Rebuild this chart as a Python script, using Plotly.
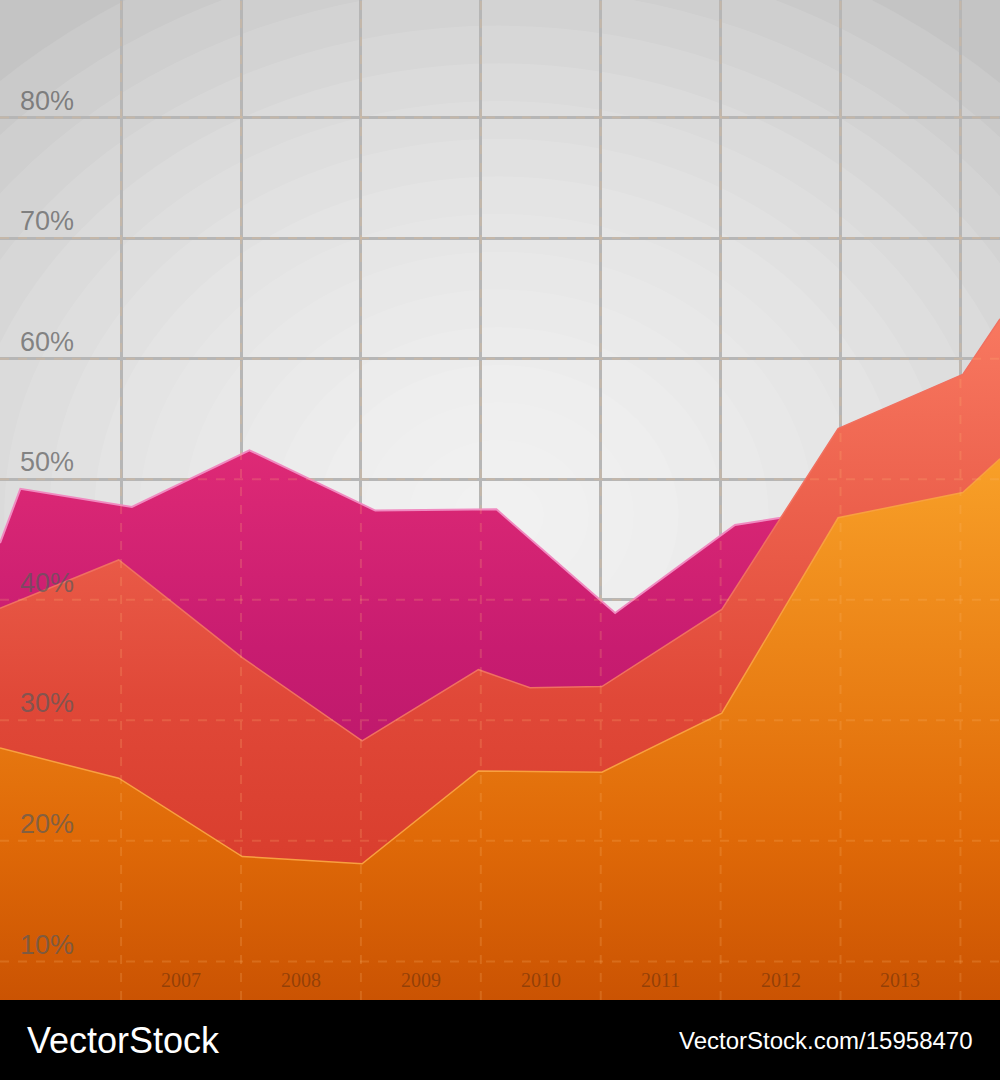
import plotly.graph_objects as go

years = ["2007", "2008", "2009", "2010", "2011", "2012", "2013"]
pct_ticks = [10, 20, 30, 40, 50, 60, 70, 80]

# series vertices (x in year-index units, y in %)
orange_x = [-1.51, -0.52, 0.51, 1.51, 2.48, 3.51, 4.51, 5.48, 6.52, 6.83]
orange_y = [27.7, 25.2, 18.7, 18.1, 25.8, 25.7, 30.6, 46.8, 48.9, 51.7]
red_x = [-1.51, -0.52, 0.51, 1.51, 2.48, 2.91, 3.51, 4.51, 5.48, 6.52, 6.83]
red_y = [39.3, 43.3, 35.2, 28.3, 34.2, 32.7, 32.8, 39.2, 54.2, 58.7, 63.3]
mag_x = [-1.51, -1.34, -0.41, 0.57, 1.62, 2.63, 3.62, 4.62, 5.0, 5.48, 6.52, 6.83]
mag_y = [44.7, 49.2, 47.7, 52.4, 47.4, 47.5, 38.9, 46.2, 46.8, 50.0, 55.0, 60.0]

fig = go.Figure()
fig.add_trace(go.Scatter(x=mag_x, y=mag_y, fill="tozeroy", mode="lines",
    line=dict(color="#f08ac0", width=2),
    fillgradient=dict(type="vertical", colorscale=[[0, "#a01060"], [0.6, "#c81c70"], [1, "#e83078"]])))
fig.add_trace(go.Scatter(x=red_x, y=red_y, fill="tozeroy", mode="lines",
    line=dict(color="#f07060", width=1.5),
    fillgradient=dict(type="vertical", colorscale=[[0, "#d03020"], [0.5, "#e04838"], [1, "#f87860"]])))
fig.add_trace(go.Scatter(x=orange_x, y=orange_y, fill="tozeroy", mode="lines",
    line=dict(color="#f8a040", width=1.5),
    fillgradient=dict(type="vertical", colorscale=[[0, "#c04800"], [0.4, "#e06a08"], [1, "#f8a028"]])))

shapes = []
# soft radial highlight in the background
n = 16
for i in range(n):
    f = 1 - i / n
    shapes.append(dict(type="circle", xref="x", yref="y", layer="below",
        x0=2.65 - 6.0 * f, x1=2.65 + 6.0 * f, y0=47 - 50 * f, y1=47 + 50 * f,
        fillcolor="rgba(255,255,255,0.1)", line_width=0))
# dashed grid over the areas
for i in range(8):
    shapes.append(dict(type="line", xref="x", yref="paper", x0=i - 0.5, x1=i - 0.5, y0=0, y1=1,
        layer="above", line=dict(color="rgba(255,190,120,0.2)", width=2, dash="dash")))
for v in pct_ticks:
    shapes.append(dict(type="line", xref="paper", yref="y", x0=0, x1=1, y0=v, y1=v,
        layer="above", line=dict(color="rgba(255,190,120,0.2)", width=2, dash="dash")))

ann = []
for v in pct_ticks:
    ann.append(dict(x=0.018, xref="paper", y=v + 1.4, yref="y", text=f"{v}%", showarrow=False,
        xanchor="left", yanchor="middle", font=dict(size=27, color="rgba(90,90,90,0.7)", family="Liberation Sans")))
for i, yr in enumerate(years):
    ann.append(dict(x=i, y=8.5, text=yr, showarrow=False, yanchor="middle",
        font=dict(size=20, color="rgba(110,50,10,0.6)", family="Liberation Serif")))
ann.append(dict(x=0.025, xref="paper", y=-0.04, yref="paper", text="VectorStock", showarrow=False,
    xanchor="left", yanchor="middle", font=dict(size=36, color="white", family="Liberation Sans")))
ann.append(dict(x=0.975, xref="paper", y=-0.04, yref="paper", text="VectorStock.com/15958470", showarrow=False,
    xanchor="right", yanchor="middle", font=dict(size=24, color="white", family="Liberation Sans")))

fig.update_layout(
    width=1000, height=1080, margin=dict(l=0, r=0, t=0, b=80),
    paper_bgcolor="black", plot_bgcolor="#c4c4c4", showlegend=False,
    shapes=shapes, annotations=ann,
    xaxis=dict(range=[-1.51, 6.83], tickvals=[i - 0.5 for i in range(8)], showticklabels=False,
               showgrid=True, gridcolor="#b6b6b6", gridwidth=3, zeroline=False),
    yaxis=dict(range=[6.8, 89.75], tickvals=pct_ticks, showticklabels=False,
               showgrid=True, gridcolor="#b6b6b6", gridwidth=3, zeroline=False),
)
fig.write_html("out.html", config={"displayModeBar": False},
               post_script="document.body.style.margin='0';")
